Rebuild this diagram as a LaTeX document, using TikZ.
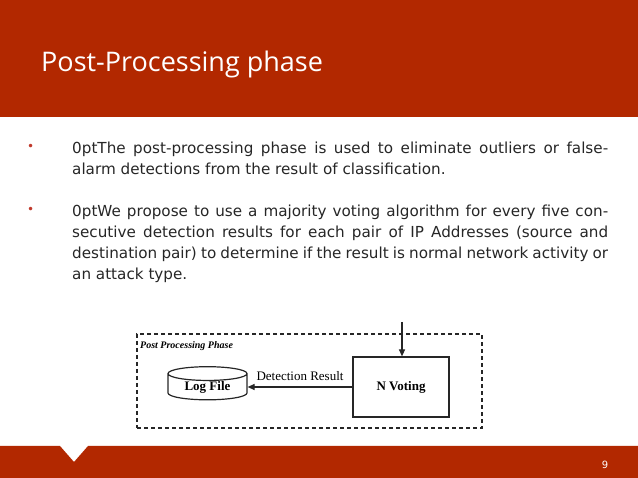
\documentclass[tikz,border=0pt]{standalone}
\usepackage{fontspec}
\setsansfont{DejaVu Sans}
\setmainfont{Liberation Serif}
\newfontfamily\titlefont{Open Sans}
\usetikzlibrary{shapes.geometric,arrows.meta}
\definecolor{hdr}{HTML}{B22800}
\definecolor{bul}{HTML}{C0392B}
\begin{document}
\begin{tikzpicture}[x=1pt,y=-1pt,
  bodytext/.style={anchor=north west,inner sep=0pt,font=\sffamily\fontsize{15.2}{21}\selectfont\hyphenpenalty=10000\exhyphenpenalty=10000,text width=536pt,align=justify,text=black!85},
  bulletmark/.style={anchor=north west,inner sep=0pt,text=bul,font=\sffamily\fontsize{12}{14}\selectfont},
  dia/.style={line width=1.2pt,draw=black!85}]
\useasboundingbox (0,0) rectangle (638,478);
\fill[hdr] (0,0) rectangle (638,117);
\node[anchor=west,text=white,font=\titlefont\fontsize{27}{30}\selectfont,inner sep=0pt] (title) at (41,64) {Post-Processing phase};
\fill[hdr] (0,446) -- (60,446) -- (74,462) -- (88,446) -- (638,446) -- (638,478) -- (0,478) -- cycle;
\node[text=white,font=\sffamily\fontsize{10}{11}\selectfont] (pg) at (605,465) {9};
\node[bulletmark] (b1) at (27,144) {•};
\node[bodytext] (t1) at (72,142) {The post-processing phase is used to eliminate outliers or false-alarm detections from the result of classification.};
\node[bulletmark] (b2) at (27,207) {•};
\node[bodytext] (t2) at (72,205) {We propose to use a majority voting algorithm for every five consecutive detection results for each pair of IP Addresses (source and destination pair) to determine if the result is normal network activity or an attack type.};
% diagram
\node[dia,dashed,dash pattern=on 4pt off 3pt,minimum width=345pt,minimum height=94pt,inner sep=0pt] (frame) at (309.5,381) {};
\node[anchor=west,inner sep=0pt,font=\bfseries\itshape\fontsize{10}{11}\selectfont] (lbl) at (140,346) {Post Processing Phase};
\node[dia,cylinder,shape border rotate=90,aspect=0.3,minimum width=79pt,minimum height=32pt,inner sep=0pt,font=\bfseries\fontsize{13}{15}\selectfont] (log) at (207.5,387) {Log File};
\node[dia,minimum width=96pt,minimum height=60pt,inner sep=0pt,font=\bfseries\fontsize{13}{15}\selectfont] (nv) at (401,387) {N Voting};
\coordinate (in) at (402,322);
\draw[dia,-{Triangle[length=7pt,width=6pt]}] (in) -- (in |- nv.north);
\draw[dia,-{Triangle[length=7pt,width=6pt]}] (nv.west |- log.east) -- (log.east) node[midway,above=6pt,inner sep=0pt,font=\fontsize{13}{15}\selectfont] (dr) {Detection Result};
\end{tikzpicture}
\end{document}
